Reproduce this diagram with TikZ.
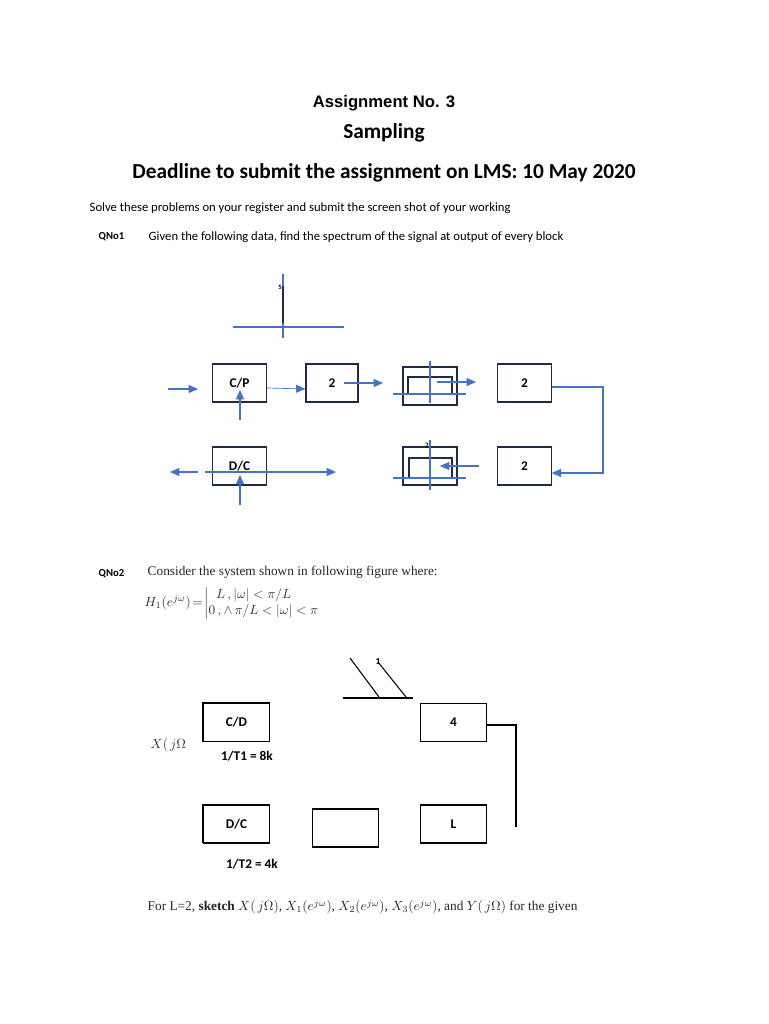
\documentclass[tikz,border=0pt]{standalone}
\usepackage{fontspec}
\setmainfont{Liberation Serif}
\newfontfamily\calfnt{Carlito}
\newfontfamily\ari{Liberation Sans}
\usetikzlibrary{arrows.meta}
\definecolor{bl}{HTML}{4472C4}
\definecolor{nv}{HTML}{1F2A44}
\begin{document}
\begin{tikzpicture}[x=0.75pt,y=-0.75pt,
  box/.style={draw=nv,line width=0.9pt},
  ln/.style={draw=bl,line width=0.8pt},
  ar/.style={ln,-{Triangle[length=7pt,width=6pt]}},
  bk/.style={draw=black,line width=0.8pt},
  bt/.style={font=\calfnt\bfseries\fontsize{10}{11}\selectfont}]
\useasboundingbox[fill=white] (0,0) rectangle (768,1024);
\node (t1) at (384,103) {\ari\bfseries\fontsize{12.5}{14}\selectfont Assignment No. 3};
\node (t2) at (384,133) {\calfnt\bfseries\fontsize{16}{18}\selectfont Sampling};
\node (t3) at (384,173) {\calfnt\bfseries\fontsize{16}{18}\selectfont Deadline to submit the assignment on LMS: 10 May 2020};
\node[anchor=west] (t4) at (85,208) {\calfnt\fontsize{9.5}{11}\selectfont Solve these problems on your register and submit the screen shot of your working};
\node[anchor=west] (q1) at (94,237) {\calfnt\bfseries\fontsize{8}{10}\selectfont QNo1};
\node[anchor=west] (g1) at (144,237) {\calfnt\fontsize{9.5}{11}\selectfont Given the following data, find the spectrum of the signal at output of every block};
% spectrum
\draw[ln] (283,274) -- (283,338);
\draw[ln] (233,327) -- (344,327);
\draw[draw=nv,line width=1.6pt] (283,286) -- (283,323);
\node[font=\calfnt\bfseries\fontsize{5}{6}\selectfont] (five) at (280,287) {5};
% top row
\node[box,bt,minimum width=40pt,minimum height=28.5pt] (cp) at (239.5,383) {C/P};
\node[box,bt,minimum width=39pt,minimum height=28.5pt] (b2) at (332,383) {2};
\node[box,minimum width=40.5pt,minimum height=28.5pt] (b3) at (430,386) {};
\draw[box] (408,377) rectangle (452,394);
\draw[ln] (430,361) -- (430,403) (393,394) -- (466,394);
\node[box,bt,minimum width=40pt,minimum height=28.5pt] (b4) at (524.5,383) {2};
\coordinate (i1) at (168,389);
\draw[ar] (i1) -- (198,389);
\draw[ar,line width=0.5pt] (cp.east|-0,388) -- (b2.west|-0,389);
\draw[ar] (344,383) -- (383,383);
\draw[ar] (437,382) -- (476,382);
\coordinate (u1) at (240,420);
\draw[ar] (u1) -- (240,390);
% lower row
\node[box,bt,minimum width=40pt,minimum height=28.5pt] (dc) at (239.5,466) {D/C};
\node[box,minimum width=40.5pt,minimum height=28.5pt] (b5) at (430,466) {};
\draw[box] (409,458) rectangle (452,478);
\draw[ln] (430,440) -- (430,490) (393,478) -- (466,478);
\node[font=\calfnt\bfseries\fontsize{5}{6}\selectfont] (two) at (427,445) {2};
\node[box,bt,minimum width=40pt,minimum height=28.5pt] (b6) at (524.5,466) {2};
\draw[ln,-{Triangle[length=7pt,width=6pt]}] (b4.east|-0,387) -- (603,387) -- (603,473) -- (b6.east|-0,473);
\draw[ar] (198,472) -- (170,472);
\draw[ar] (205,472) -- (336,472);
\draw[ar] (479,466) -- (440,466);
\coordinate (u2) at (240,505);
\draw[ar] (u2) -- (240,475);
% QNo2
\node[anchor=west] (q2) at (94,574) {\calfnt\bfseries\fontsize{8}{10}\selectfont QNo2};
\node[anchor=west,font=\fontsize{10}{12}\selectfont,text=black!85] (c2) at (143,572) {Consider the system shown in following figure where:};
\node[anchor=west,text=black!80,inner sep=1pt] (h1) at (143,603) {$H_1(e^{j\omega})\!=\!\left|\begin{array}{@{}l@{}}\;\;L\,,|\omega|<\pi/L\\ 0\,,\wedge\,\pi/L<|\omega|<\pi\end{array}\right.$};
\draw[bk] (350,658) -- (379,697) (378,662) -- (406,697);
\draw[bk] (343,698) -- (413,698);
\node[font=\calfnt\bfseries\fontsize{7}{8}\selectfont] (one) at (378,661) {1};
\node[draw,line width=0.8pt,bt,minimum width=50pt,minimum height=29pt] (cd) at (236.5,722.5) {C/D};
\draw[line width=1.4pt] (203,742) -- (203,703) -- (270,703);
\node[anchor=west,text=black!80,font=\fontsize{10}{12}\selectfont] (xj) at (146,745) {$X(\,j\Omega$};
\node[bt] (f1) at (247,756) {1/T1 = 8k};
\node[draw,line width=0.8pt,bt,minimum width=50pt,minimum height=29pt] (b4q) at (453.5,722.5) {4};
\draw[line width=0.8pt] (b4q.east|-0,725) -- (516,725) -- (516,827);
\node[draw,line width=0.8pt,bt,minimum width=50pt,minimum height=28.5pt] (dc2) at (236.5,824) {D/C};
\draw[line width=1.4pt] (203,843) -- (203,805) -- (270,805);
\node[draw,line width=0.8pt,minimum width=50pt,minimum height=28.5pt] (mid) at (345.5,828) {};
\draw[line width=1.4pt] (312,809) -- (379,809);
\node[draw,line width=0.8pt,bt,minimum width=50pt,minimum height=28.5pt] (lq) at (453.5,824) {L};
\draw[line width=1.4pt] (420,805) -- (487,805);
\node[bt] (f2) at (252,864) {1/T2 = 4k};
\node[anchor=west,font=\fontsize{10}{12}\selectfont,text=black!85] (bot) at (143,907) {For L=2, \textbf{sketch} $X(\,j\Omega)$, $X_1(e^{j\omega})$, $X_2(e^{j\omega})$, $X_3(e^{j\omega})$, and $Y(\,j\Omega)$ for the given};
\end{tikzpicture}
\end{document}
